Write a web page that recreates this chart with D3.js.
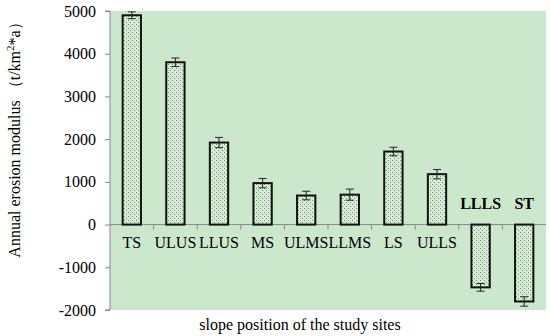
<!DOCTYPE html>
<html>
<head>
<meta charset="utf-8">
<title>erosion modulus</title>
<script src="https://cdnjs.cloudflare.com/ajax/libs/d3/7.8.5/d3.min.js"></script>
<style>
body { margin: 0; background: #fff; }
text { font-family: "Liberation Serif", "Times New Roman", serif; fill: #000; }
</style>
</head>
<body>
<div id="chart"></div>
<script>
// slope positions and erosion modulus (t/km2*a)
var sites = ['TS', 'ULUS', 'LLUS', 'MS', 'ULMS', 'LLMS', 'LS', 'ULLS', 'LLLS', 'ST'];
var values = [4900, 3800, 1920, 970, 680, 700, 1710, 1180, -1470, -1800];
var errors = [80, 100, 120, 110, 100, 130, 100, 110, 90, 110];
var yTicks = [5000, 4000, 3000, 2000, 1000, 0, -1000, -2000];

var width = 550, height = 336;
var margin = { top: 11, right: 4, bottom: 26, left: 110 };

var svg = d3.select('#chart').append('svg')
    .attr('width', width)
    .attr('height', height);

// dotted bar fill
var defs = svg.append('defs');
var pat = defs.append('pattern')
    .attr('id', 'dots')
    .attr('patternUnits', 'userSpaceOnUse')
    .attr('width', 4).attr('height', 4);
pat.append('rect').attr('width', 4).attr('height', 4).attr('fill', '#d6ecd6');
pat.append('rect').attr('x', 0).attr('y', 0).attr('width', 1).attr('height', 1).attr('fill', '#6f8c6f');
pat.append('rect').attr('x', 2).attr('y', 2).attr('width', 1).attr('height', 1).attr('fill', '#6f8c6f');

var x = d3.scaleBand()
    .domain(sites)
    .range([margin.left, width - margin.right])
    .paddingInner(0.58)
    .paddingOuter(0.29);

var xb = d3.scaleBand()
    .domain(sites)
    .range([margin.left, width - margin.right]);

var y = d3.scaleLinear()
    .domain([-2000, 5000])
    .range([height - margin.bottom, margin.top]);

// plot background
svg.append('rect')
    .attr('x', margin.left)
    .attr('y', margin.top)
    .attr('width', width - margin.left - margin.right)
    .attr('height', y(-2000) - margin.top)
    .attr('fill', '#cce8cc');

// y axis
var yAxis = svg.append('g')
    .attr('transform', 'translate(' + margin.left + ',0)')
    .call(d3.axisLeft(y).tickValues(yTicks).tickSize(5).tickPadding(9)
        .tickFormat(function(d) { return String(d); }));
yAxis.attr('font-family', '"Liberation Serif", serif').attr('font-size', 16);
yAxis.selectAll('line, path').attr('stroke', '#888');
yAxis.select('.domain').attr('d', 'M-5,' + y(5000) + 'H0V' + y(-2000) + 'H-5');

// x axis line at zero
svg.append('line')
    .attr('x1', margin.left).attr('x2', width - margin.right)
    .attr('y1', y(0)).attr('y2', y(0))
    .attr('stroke', '#888');
svg.selectAll('.xtick')
    .data(sites.slice(1))
    .enter().append('line')
    .attr('class', 'xtick')
    .attr('x1', function(d) { return xb(d); })
    .attr('x2', function(d) { return xb(d); })
    .attr('y1', y(0)).attr('y2', y(0) + 5)
    .attr('stroke', '#888');

// bars
svg.selectAll('.bar')
    .data(values)
    .enter().append('rect')
    .attr('class', 'bar')
    .attr('x', function(d, i) { return x(sites[i]); })
    .attr('width', x.bandwidth())
    .attr('y', function(d) { return y(Math.max(0, d)); })
    .attr('height', function(d) { return Math.abs(y(d) - y(0)); })
    .attr('fill', 'url(#dots)')
    .attr('stroke', '#111')
    .attr('stroke-width', 2);

// error bars
var eb = svg.selectAll('.err')
    .data(values)
    .enter().append('g')
    .attr('class', 'err')
    .attr('transform', function(d, i) { return 'translate(' + (x(sites[i]) + x.bandwidth() / 2) + ',0)'; });
eb.append('line')
    .attr('y1', function(d, i) { return y(d + errors[i]); })
    .attr('y2', function(d, i) { return y(d - errors[i]); })
    .attr('stroke', '#222');
eb.append('line')
    .attr('x1', -4).attr('x2', 4)
    .attr('y1', function(d, i) { return y(d + errors[i]); })
    .attr('y2', function(d, i) { return y(d + errors[i]); })
    .attr('stroke', '#222');
eb.append('line')
    .attr('x1', -4).attr('x2', 4)
    .attr('y1', function(d, i) { return y(d - errors[i]); })
    .attr('y2', function(d, i) { return y(d - errors[i]); })
    .attr('stroke', '#222');

// category labels
svg.selectAll('.lab')
    .data(sites)
    .enter().append('text')
    .attr('class', 'lab')
    .attr('x', function(d) { return xb(d) + xb.bandwidth() / 2; })
    .attr('y', function(d, i) { return values[i] < 0 ? y(0) - 16 : y(0) + 23; })
    .attr('text-anchor', 'middle')
    .style('font-size', '16px')
    .style('font-weight', function(d, i) { return values[i] < 0 ? 'bold' : 'normal'; })
    .text(function(d) { return d; });

// axis titles
svg.append('text')
    .attr('x', 300).attr('y', 330)
    .attr('text-anchor', 'middle')
    .style('font-size', '16px')
    .text('slope position of the study sites');

svg.append('text')
    .attr('transform', 'translate(20,136) rotate(-90)')
    .attr('text-anchor', 'middle')
    .style('font-size', '16px')
    .html('Annual erosion modulus （t/km<tspan baseline-shift="super" font-size="11px">2</tspan>*a）');
</script>
</body>
</html>
